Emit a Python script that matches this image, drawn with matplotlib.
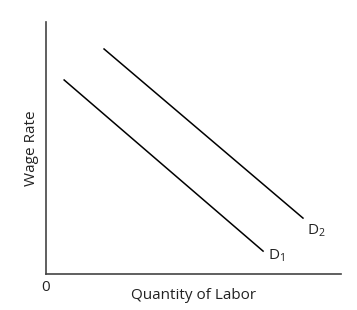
import matplotlib.pyplot as plt

# demand curves for labor (endpoints, axes 0..100)
d1_x = [6.3, 73.6]
d1_y = [77.0, 9.1]
d2_x = [19.8, 87.1]
d2_y = [89.3, 22.2]
labels = ['D$_1$', 'D$_2$']

plt.rcParams['font.family'] = ['Open Sans', 'DejaVu Sans']
plt.rcParams['mathtext.fontset'] = 'custom'
plt.rcParams['mathtext.rm'] = 'Open Sans'
plt.rcParams['mathtext.it'] = 'Open Sans'
plt.rcParams['text.color'] = '#222222'
plt.rcParams['axes.labelcolor'] = '#222222'

fig = plt.figure(figsize=(3.57, 3.10), dpi=100)
ax = fig.add_axes([0.1275, 0.116, 0.828, 0.813])

ax.plot(d1_x, d1_y, c='black', lw=1.1)
ax.plot(d2_x, d2_y, c='black', lw=1.1)
ax.text(d1_x[1] + 1.5, d1_y[1] - 2, labels[0], fontsize=11, va='center', ha='left')
ax.text(d2_x[1] + 1.5, d2_y[1] - 5, labels[1], fontsize=11, va='center', ha='left')

ax.set_xlim(0, 100)
ax.set_ylim(0, 100)
ax.set_xticks([])
ax.set_yticks([])
for s in ['top', 'right']:
    ax.spines[s].set_visible(False)
for s in ['left', 'bottom']:
    ax.spines[s].set_color('#444444')
    ax.spines[s].set_linewidth(1.2)

ax.set_xlabel('Quantity of Labor', fontsize=11, labelpad=10)
ax.set_ylabel('Wage Rate', fontsize=11, labelpad=5)
ax.text(0, -5.5, '0', fontsize=11, ha='center', va='center')

fig.savefig('out.png')
